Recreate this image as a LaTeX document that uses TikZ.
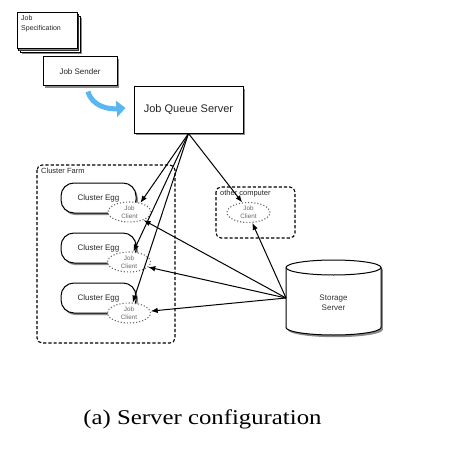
\documentclass[tikz,border=0pt]{standalone}
\usepackage{fontspec}
\usepackage{graphicx}
\setmainfont{Liberation Sans}
\newfontfamily\capfont{Liberation Serif}
\usetikzlibrary{shadows,calc,arrows.meta,shapes.geometric}
\definecolor{skyarrow}{HTML}{5AB6EE}
\begin{document}
\begin{tikzpicture}[x=1pt,y=1pt,
  shad/.style={drop shadow={shadow xshift=1.8pt, shadow yshift=-2.2pt, opacity=0.65, fill=black!70}},
  box/.style={draw, line width=1pt, fill=white, shad, inner sep=0pt, text=black!85},
  egg/.style={box, rounded corners=13pt, minimum width=75pt, minimum height=30pt, font=\fontsize{8}{9}\selectfont},
  client/.style={ellipse, draw=black!60, dotted, line width=1.1pt, fill=white, minimum width=43pt, minimum height=20pt, inner sep=0pt, font=\fontsize{6.3}{7.8}\selectfont, text=black!60, align=center},
  group/.style={draw, dash pattern=on 3.2pt off 2pt, line width=1.1pt, rounded corners=5pt},
  arr/.style={-{Latex[length=7pt,width=5.5pt]}, line width=1pt},
  lbl/.style={font=\fontsize{7.5}{9}\selectfont, text=black!85, inner sep=0pt, anchor=west},
  bluearrow/.style={draw=skyarrow, line width=5pt, -{Triangle[length=9pt,width=16pt]}}
]
\useasboundingbox (0,0) rectangle (474,-460);

% Job specification (stack of pages)
\draw[line width=0.9pt, fill=white, shad] (20,-16) rectangle (80,-52);
\draw[line width=0.9pt, fill=white] (18.5,-14.5) rectangle (78.5,-50.5);
\node[box, minimum width=60pt, minimum height=36pt] (spec) at (47,-31) {};
\node[lbl, font=\fontsize{7}{10}\selectfont, anchor=north west, align=left] (spectext) at (21,-15.5) {Job\\Specification};

% Job sender and job queue server
\node[box, minimum width=74pt, minimum height=29pt, font=\fontsize{8}{9}\selectfont] (js) at (80,-71.5) {Job Sender};
\node[box, minimum width=109pt, minimum height=46pt, font=\fontsize{11}{13}\selectfont] (jqs) at (188.5,-110) {Job Queue Server};

\draw[bluearrow] ([xshift=8pt,yshift=-5pt]js.south) to[out=-75,in=185] ([xshift=-8pt,yshift=2pt]jqs.west);

% Cluster farm
\draw[group] (37,-165) rectangle (175,-343);
\node[lbl] (farmlbl) at (41,-171) {Cluster Farm};
\node[egg] (e1) at (98.5,-198) {Cluster Egg};
\node[egg] (e2) at (98.5,-248) {Cluster Egg};
\node[egg] (e3) at (98.5,-298) {Cluster Egg};
\node[client] (c1) at (129.5,-212) {Job\\Client};
\node[client] (c2) at (129,-262) {Job\\Client};
\node[client] (c3) at (129,-313) {Job\\Client};

% Other computer
\draw[group] (216,-187) rectangle (295,-238);
\node[lbl] (otherlbl) at (220,-193.5) {other computer};
\node[client] (oc) at (248.5,-212.5) {Job\\Client};

% Storage server (cylinder)
\draw[line width=1pt, fill=white, shad] (286,-267.5) -- (286,-327.5)
  arc[start angle=180, end angle=360, x radius=47.5, y radius=7.5] -- (381,-267.5)
  arc[start angle=0, end angle=180, x radius=47.5, y radius=7.5] -- cycle;
\draw[line width=1pt] (286,-267.5) arc[start angle=180, end angle=360, x radius=47.5, y radius=7.5];
\node[font=\fontsize{8}{10}\selectfont, text=black!80, align=center, inner sep=0pt] (storage) at (333.5,-303) {Storage\\Server};
\coordinate (stl) at (286,-298);

% Connectors from the job queue server
\draw[arr] (jqs.south) -- (c1.40);
\draw[arr] (jqs.south) -- (c2.67);
\draw[arr] (jqs.south) -- (c3.70);
\draw[arr] (jqs.south) -- (oc.122);

% Connectors from the storage server
\draw[arr] (stl) -- (c1.-30);
\draw[arr] (stl) -- (c2.-15);
\draw[arr] (stl) -- (c3.5);
\draw[arr] (stl) -- (oc.-70);

% Caption
\node[inner sep=0pt] (caption) at (202.5,-419) {\capfont\fontsize{21}{24}\selectfont\scalebox{1.18}[1]{(a) Server configuration}};
\end{tikzpicture}
\end{document}
